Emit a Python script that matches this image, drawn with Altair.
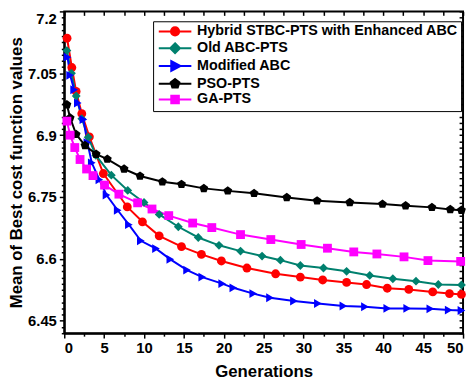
import altair as alt
import pandas as pd

series_names = ["Hybrid STBC-PTS with Enhanced ABC", "Old ABC-PTS", "Modified ABC", "PSO-PTS", "GA-PTS"]
colors = ["#FF0000", "#00806E", "#0000FF", "#000000", "#FF00FF"]

hybrid_x = [0.35, 0.95, 1.49, 2.2, 3.15, 4.9, 7.9, 9.8, 11.9, 14.7, 17.2, 19.7, 22.9, 26.5, 29.6, 32.4, 35.4, 37.9, 40.5, 43.2, 46.2, 48.3, 49.8]
hybrid_y = [7.135, 7.064, 7.006, 6.952, 6.896, 6.807, 6.726, 6.690, 6.656, 6.630, 6.611, 6.595, 6.578, 6.564, 6.556, 6.549, 6.543, 6.538, 6.529, 6.526, 6.520, 6.516, 6.514]

old_x = [0.33, 0.9, 1.5, 2.2, 3.0, 3.96, 5.9, 7.96, 10.0, 11.9, 14.3, 16.8, 19.4, 22.1, 24.8, 27.1, 29.6, 32.5, 35.4, 38.3, 41.2, 44.1, 46.9, 49.8]
old_y = [7.105, 7.05, 6.995, 6.94, 6.895, 6.851, 6.803, 6.766, 6.737, 6.708, 6.678, 6.652, 6.633, 6.619, 6.607, 6.597, 6.584, 6.578, 6.570, 6.560, 6.552, 6.546, 6.538, 6.537]

mod_x = [0.41, 0.74, 1.24, 1.7, 2.4, 2.9, 3.45, 4.4, 5.3, 6.7, 8.1, 9.6, 11.5, 13.3, 15.4, 17.3, 19.8, 21.2, 23.7, 25.8, 28.8, 31.8, 35.0, 37.7, 40.5, 43.0, 45.9, 48.2, 49.8]
mod_y = [7.089, 7.045, 7.010, 6.978, 6.938, 6.882, 6.833, 6.792, 6.755, 6.718, 6.683, 6.644, 6.625, 6.599, 6.573, 6.556, 6.540, 6.530, 6.516, 6.506, 6.498, 6.492, 6.486, 6.484, 6.480, 6.480, 6.479, 6.476, 6.475]

pso_x = [0.33, 0.74, 1.49, 2.6, 4.0, 5.4, 7.5, 9.5, 12.3, 14.7, 17.5, 20.5, 23.8, 27.9, 31.7, 35.8, 39.9, 42.8, 46.1, 48.4, 49.8]
pso_y = [6.974, 6.942, 6.902, 6.875, 6.854, 6.842, 6.818, 6.801, 6.787, 6.781, 6.771, 6.765, 6.759, 6.749, 6.741, 6.737, 6.733, 6.729, 6.725, 6.720, 6.718]

ga_x = [0.33, 0.74, 1.32, 1.98, 2.8, 3.6, 5.05, 6.85, 9.2, 11.0, 13.1, 16.1, 18.5, 22.1, 25.9, 29.7, 33.0, 36.3, 39.2, 42.6, 45.6, 49.7]
ga_y = [6.934, 6.900, 6.870, 6.841, 6.818, 6.802, 6.779, 6.757, 6.736, 6.721, 6.705, 6.687, 6.676, 6.659, 6.647, 6.635, 6.626, 6.617, 6.612, 6.605, 6.596, 6.594]

x_tick_values = [i * 2.5 for i in range(21)]
y_tick_values = [round(6.42 + 0.015 * i, 3) for i in range(53)]

rows = []
for name, xs, ys in zip(series_names,
                        [hybrid_x, old_x, mod_x, pso_x, ga_x],
                        [hybrid_y, old_y, mod_y, pso_y, ga_y]):
    for xv, yv in zip(xs, ys):
        rows.append({"series": name, "gen": xv, "cost": yv})
df = pd.DataFrame(rows)

FONT = "Liberation Sans"
PENT = "M0,-1.05L1,-0.32L0.62,0.85L-0.62,0.85L-1,-0.32Z"
point_shapes = ["circle", "diamond", "triangle-right", PENT, "square"]
LINE = "M-3,0L3,0"
legend_shapes = [
    LINE + "M0.75,0A0.75,0.75,0,1,1,-0.75,0A0.75,0.75,0,1,1,0.75,0Z",
    LINE + "M0,-0.9L0.9,0L0,0.9L-0.9,0Z",
    LINE + "M-0.7,-0.9L1.0,0L-0.7,0.9Z",
    LINE + "M0,-0.85L0.8,-0.26L0.5,0.7L-0.5,0.7L-0.8,-0.26Z",
    LINE + "M-0.7,-0.7L0.7,-0.7L0.7,0.7L-0.7,0.7Z",
]

xscale = alt.Scale(domain=[0, 50], nice=False, zero=False)
yscale = alt.Scale(domain=[6.42, 7.2], nice=False, zero=False)
cscale = alt.Scale(domain=series_names, range=colors)

x_axis = alt.Axis(
    values=x_tick_values,
    labelExpr="datum.value % 5 === 0 ? datum.label : ''",
    tickSize={"condition": {"test": "datum.value % 5 === 0", "value": 5}, "value": 3},
    title="Generations", titleFontSize=17, titleFont=FONT, titleFontWeight="bold",
    labelFont=FONT, labelFontSize=15, labelFontWeight="bold", labelColor="black",
    titleColor="black", grid=False, domainColor="black", domainWidth=2,
    tickColor="black", tickWidth=1.5, labelPadding=3, titlePadding=8,
)
y_axis = alt.Axis(
    values=y_tick_values,
    labelExpr="round(datum.value*1000) % 150 === 0 ? format(datum.value, '.2~f') : ''",
    tickSize={"condition": {"test": "round(datum.value*1000) % 150 === 0", "value": 5}, "value": 3},
    title="Mean of Best cost function values", titleFontSize=17, titleFont=FONT,
    titleFontWeight="bold", labelFont=FONT, labelFontSize=15, labelFontWeight="bold",
    labelColor="black", titleColor="black", grid=False, domainColor="black",
    domainWidth=2, tickColor="black", tickWidth=1.5, labelPadding=3, titlePadding=2,
    labelFlush=True,
)

base = alt.Chart(df)

leg = alt.Legend(
    title=None, orient="none", legendX=90, legendY=10,
    strokeColor="black", fillColor="white", padding=3,
    labelFont=FONT, labelFontSize=14.5, labelFontWeight="bold", labelColor="black",
    symbolSize=121, symbolStrokeWidth=2, symbolOffset=12, labelOffset=15, rowPadding=-1,
    labelLimit=400, symbolOpacity=1,
)

# invisible carrier layer (size 0) that owns the legend and the mirrored top/right ticks
legend_layer = base.mark_point(filled=True, strokeWidth=2, size=0, opacity=1).encode(
    x=alt.X("gen:Q", scale=xscale, axis=alt.Axis(
        orient="top", values=x_tick_values, labels=False, domain=False, title=None,
        tickSize=4, offset=-4, tickColor="black", tickWidth=1.5, grid=False)),
    y=alt.Y("cost:Q", scale=yscale, axis=alt.Axis(
        orient="right", values=y_tick_values, labels=False, domain=False, title=None,
        tickSize=4, offset=-4, tickColor="black", tickWidth=1.5, grid=False)),
    fill=alt.Fill("series:N", scale=alt.Scale(domain=series_names, range=colors), legend=leg),
    stroke=alt.Stroke("series:N", scale=alt.Scale(domain=series_names, range=colors), legend=leg),
    shape=alt.Shape("series:N", scale=alt.Scale(domain=series_names, range=legend_shapes), legend=leg),
)

lines = base.mark_line(strokeWidth=2).encode(
    x=alt.X("gen:Q", scale=xscale, axis=x_axis),
    y=alt.Y("cost:Q", scale=yscale, axis=y_axis),
    color=alt.Color("series:N", scale=cscale, legend=None),
    detail="series:N",
)

point_layers = []
for name, shp in zip(series_names, point_shapes):
    point_layers.append(
        base.transform_filter(alt.datum.series == name).mark_point(
            filled=True, size=80, opacity=1, shape=shp
        ).encode(
            x=alt.X("gen:Q", scale=xscale, axis=None),
            y=alt.Y("cost:Q", scale=yscale, axis=None),
            color=alt.Color("series:N", scale=cscale, legend=None),
        )
    )

chart = alt.layer(legend_layer, lines, *point_layers).resolve_axis(
    x="independent", y="independent"
).properties(
    width=404, height=326,
    padding={"left": -1, "top": 0, "right": 0, "bottom": 0},
    background="white",
).configure_view(stroke="black", strokeWidth=2)

chart.save("out.html", embed_options={"renderer": "svg", "actions": False})
